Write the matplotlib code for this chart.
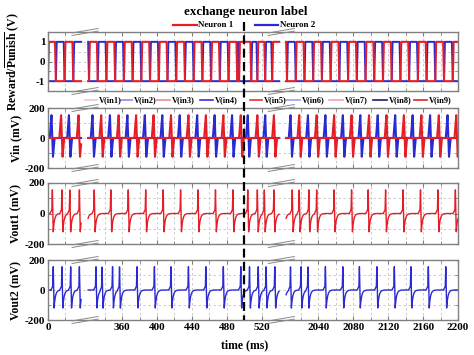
import numpy as np
import matplotlib
matplotlib.use('Agg')
import matplotlib.pyplot as plt
from matplotlib.lines import Line2D
from matplotlib.transforms import blended_transform_factory, IdentityTransform

plt.rcParams['font.family'] = ['Liberation Serif', 'DejaVu Serif']
plt.rcParams['font.weight'] = 'bold'
plt.rcParams['mathtext.fontset'] = 'custom'
plt.rcParams['mathtext.rm'] = 'Liberation Serif:bold'
plt.rcParams['mathtext.bf'] = 'Liberation Serif:bold'
plt.rcParams['mathtext.it'] = 'Liberation Serif:bold:italic'
plt.rcParams['path.simplify'] = False

# ------------------------------------------------------------------ data
# time windows that are shown (ms)
seg_start = [0, 321, 2003]
seg_end = [38, 540, 2200]

# Reward/Punish: intervals where Neuron 1 (red) is high
n1_high_start = [0, 19, 322, 342, 362, 382, 402, 422, 442, 462, 482, 494, 515, 532,
                 1994, 2014, 2034, 2054, 2074, 2094, 2114, 2134, 2154, 2174, 2194]
n1_high_end = [9, 29, 332, 352, 372, 392, 412, 432, 452, 472, 492, 508, 524, 545,
               2004, 2024, 2044, 2064, 2084, 2104, 2124, 2144, 2164, 2184, 2204]
# intervals where Neuron 2 (blue) is high
n2_high_start = [9, 29, 310, 332, 352, 372, 392, 412, 432, 452, 472, 492, 508, 524,
                 2004, 2024, 2044, 2064, 2084, 2104, 2124, 2144, 2164, 2184]
n2_high_end = [19, 39, 322, 342, 362, 382, 402, 422, 442, 462, 482, 494, 515, 532,
               2014, 2034, 2054, 2074, 2094, 2114, 2134, 2154, 2174, 2194]

# input spike times (ms)
vin_blue_t = [4, 24, 326, 346, 366, 386, 406, 426, 446, 466, 486, 504, 524,
              2008, 2028, 2048, 2068, 2088, 2108, 2128, 2148, 2168, 2188]
vin_red_t = [15, 35, 336, 356, 376, 396, 416, 436, 456, 476, 496, 515, 534,
             2018, 2038, 2058, 2078, 2098, 2118, 2138, 2158, 2178, 2198]

# output spike times (ms)
vout1_t = [5, 16, 25, 36, 318, 328, 347, 367, 387, 407, 427, 447, 467, 487,
           504, 515, 523, 534, 2000, 2010, 2018, 2029, 2038, 2058, 2078, 2097,
           2117, 2137, 2157, 2177, 2197]
vout2_t = [6, 16, 26, 36, 330, 337, 349, 357, 377, 397, 416, 436, 456, 476, 496,
           506, 516, 525, 535, 2000, 2008, 2020, 2028, 2048, 2068, 2087, 2107,
           2127, 2146, 2166, 2186]

# axis ticks
major_ticks = [0, 360, 400, 440, 480, 520, 2040, 2080, 2120, 2160, 2200]
minor_ticks = [20, 340, 380, 420, 460, 500, 2020, 2060, 2100, 2140, 2180]
exchange_t = 500

vin_labels = ['V(in1)', 'V(in2)', 'V(in3)', 'V(in4)', 'V(in5)', 'V(in6)', 'V(in7)', 'V(in8)', 'V(in9)']
vin_colors = ['#ecc6c6', '#8c8cee', '#f08c8c', '#3434d6', '#e63232', '#9ca0ee', '#f4a2a2', '#1c1c6e', '#e22424']

RED = '#e41e26'
BLUE = '#2a2ad2'
RAMP = 1.0

# ------------------------------------------------------------------ broken time axis
TK = [-1e4, 0, 40, 320, 540, 2000, 2200, 1e5]
UK = [-1e4, 0, 40, 45, 265, 270, 470, 1e5 - 1730]


def fwd(t):
    return np.interp(t, TK, UK)


def inv(u):
    return np.interp(u, UK, TK)


def pulse_train(t, starts, ends, ramp=RAMP):
    y = -np.ones_like(t)
    for s, e in zip(starts, ends):
        y += 2 * (np.clip((t - s) / ramp, 0, 1) - np.clip((t - (e - ramp)) / ramp, 0, 1))
    return y


def train_knots(a, b, starts, ends, ramp=RAMP):
    pts = [a, b]
    for s, e in zip(starts, ends):
        pts += [s, s + ramp, e - ramp, e]
    return np.array(sorted(set(p for p in pts if a <= p <= b)), dtype=float)


def vin_wave(t, times):
    y = np.zeros_like(t)
    for ti in times:
        y += np.interp(t - ti, [-2.0, 0, 1.7, 3.6], [0, 152, -125, 0], left=0, right=0)
    return y


def vout_wave(t, times):
    y = np.zeros_like(t)
    for ti in times:
        d = t - ti
        y += np.interp(d, [-2.6, -0.6, 0, 1.0], [0, 25, 155, -120], left=0, right=0)
        rec = d > 1.0
        y[rec] += -120 * np.exp(-(d[rec] - 1.0) / 1.5)
    return y


W, H = 474, 355
fig = plt.figure(figsize=(W / 100, H / 100), dpi=100)


def fx(px):
    return px / W


def fy(py):
    return 1 - py / H


panel_px = [(32, 91), (108, 168), (183, 244), (260, 320)]
axes = []
for top, bot in panel_px:
    ax = fig.add_axes([fx(48), fy(bot), fx(458) - fx(48), (bot - top) / H])
    ax.set_xscale('function', functions=(fwd, inv))
    ax.set_xlim(0, 2200)
    axes.append(ax)

ax1, ax2, ax3, ax4 = axes

for a, b in zip(seg_start, seg_end):
    tb = train_knots(a, b, n2_high_start, n2_high_end)
    ax1.plot(tb, pulse_train(tb, n2_high_start, n2_high_end), color=BLUE, lw=1.4)
    tr_ = train_knots(a, b, n1_high_start, n1_high_end)
    ax1.plot(tr_, pulse_train(tr_, n1_high_start, n1_high_end), color=RED, lw=1.5)
    t = np.arange(a, b, 0.05)
    ax2.plot(t, vin_wave(t, vin_blue_t), color=BLUE, lw=1.5)
    ax2.plot(t, vin_wave(t, vin_red_t), color=RED, lw=1.5)
    ax3.plot(t, vout_wave(t, vout1_t), color=RED, lw=1.0)
    ax4.plot(t, vout_wave(t, vout2_t), color=BLUE, lw=1.0)

ax1.set_ylim(-1.5, 1.5)
ax1.set_yticks([-1, 0, 1])
ax1.set_yticklabels(['-1', '0', '1'])
ax1.set_yticks([-0.5, 0.5], minor=True)
for ax in (ax2, ax3, ax4):
    ax.set_ylim(-200, 200)
    ax.set_yticks([-200, 0, 200])
    ax.set_yticklabels(['-200', '0', '200'])
    ax.set_yticks([-100, 100], minor=True)

for ax in axes:
    ax.set_xticks(major_ticks)
    ax.set_xticks(minor_ticks, minor=True)
    ax.grid(True, which='both', color='#c4c4c4', lw=0.6, ls=(0, (3, 3)))
    ax.set_axisbelow(True)
    ax.tick_params(which='both', direction='in', top=True, right=True, color='#808080',
                   labelsize=8, pad=2)
    ax.tick_params(which='major', length=3)
    ax.tick_params(which='minor', length=2)
    for s in ax.spines.values():
        s.set_color('#808080')
        s.set_linewidth(1.0)
    if ax is not ax4:
        ax.tick_params(labelbottom=False)
    for lab in ax.get_yticklabels():
        lab.set_fontweight('bold')

ax4.set_xticklabels([str(v) for v in major_ticks])
for lab in ax4.get_xticklabels():
    lab.set_fontweight('bold')

ylabels = [r'Reward/$\overline{\mathrm{Punish}}$ (V)', 'Vin (mV)', 'Vout1 (mV)', 'Vout2 (mV)']
for ax, lab in zip(axes, ylabels):
    ax.set_ylabel(lab, fontsize=8.5, fontweight='bold')
    ax.yaxis.set_label_coords(-0.063, 0.5)

fig.text(fx(245), fy(345), 'time (ms)', ha='center', va='center', fontsize=8.5, fontweight='bold')
fig.text(fx(246), fy(12), 'exchange neuron label', ha='center', va='center', fontsize=9.3,
         fontweight='bold')

# neuron legend
for (x0, x1), col, lab in zip([(173, 197), (255, 278)], [RED, BLUE], ['Neuron 1', 'Neuron 2']):
    fig.add_artist(Line2D([fx(x0), fx(x1)], [fy(25), fy(25)], color=col, lw=1.6,
                          transform=fig.transFigure))
    fig.text(fx(x1 + 1.5), fy(25), lab, ha='left', va='center', fontsize=6.5, fontweight='bold')

# input legend
vin_leg_px = [(85, 97), (121, 132), (157, 170), (200, 213), (250, 262), (286, 300),
              (329, 343), (373, 387), (414, 427)]
for (x0, x1), col, lab in zip(vin_leg_px, vin_colors, vin_labels):
    fig.add_artist(Line2D([fx(x0), fx(x1)], [fy(100), fy(100)], color=col, lw=1.2,
                          transform=fig.transFigure))
    fig.text(fx(x1 + 1.5), fy(100), lab, ha='left', va='center', fontsize=6, fontweight='bold')

# exchange dashed line
trf = blended_transform_factory(ax4.transData, fig.transFigure)
fig.add_artist(Line2D([exchange_t, exchange_t], [fy(22), fy(320)], color='black', lw=1.6,
                      dashes=(4, 2), transform=trf))

# break marks
fig.canvas.draw()
for ax in axes:
    bb = ax.bbox
    for tc in (180, 1270):
        xc = ax.transData.transform((tc, 0))[0]
        for yedge in (bb.y0, bb.y1):
            for off in (-1.3, 1.3):
                fig.add_artist(Line2D([xc - 13, xc + 13], [yedge - 2.2 + off, yedge + 2.2 + off],
                                      color='#8a8a8a', lw=0.7, transform=IdentityTransform()))

fig.savefig('out.png', dpi=100)
